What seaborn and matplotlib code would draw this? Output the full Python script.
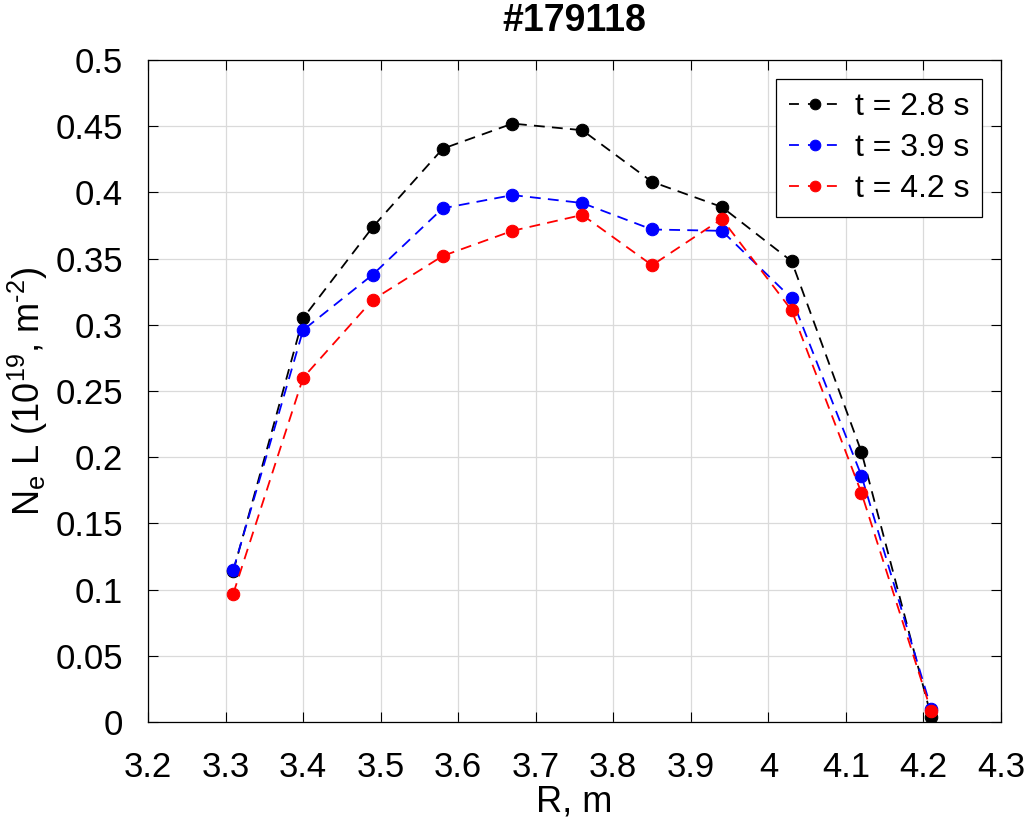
import numpy as np
import pandas as pd
import matplotlib
matplotlib.use("Agg")
import matplotlib.pyplot as plt
import seaborn as sns

# Radial positions of the chords (m)
R = [3.31, 3.40, 3.49, 3.58, 3.67, 3.76, 3.85, 3.94, 4.03, 4.12, 4.21]

# Line-integrated density, 1e19 m^-2
nel_t28 = [0.114, 0.305, 0.374, 0.433, 0.452, 0.447, 0.408, 0.389, 0.348, 0.204, 0.004]
nel_t39 = [0.115, 0.296, 0.338, 0.388, 0.398, 0.392, 0.372, 0.371, 0.320, 0.186, 0.010]
nel_t42 = [0.097, 0.260, 0.319, 0.352, 0.371, 0.383, 0.345, 0.380, 0.311, 0.173, 0.008]

labels = ["t = 2.8 s", "t = 3.9 s", "t = 4.2 s"]
colors = ["black", "blue", "red"]

x_ticks = [3.2, 3.3, 3.4, 3.5, 3.6, 3.7, 3.8, 3.9, 4.0, 4.1, 4.2, 4.3]
x_tick_labels = ["3.2", "3.3", "3.4", "3.5", "3.6", "3.7", "3.8", "3.9", "4", "4.1", "4.2", "4.3"]
y_ticks = [0, 0.05, 0.1, 0.15, 0.2, 0.25, 0.3, 0.35, 0.4, 0.45, 0.5]
y_tick_labels = ["0", "0.05", "0.1", "0.15", "0.2", "0.25", "0.3", "0.35", "0.4", "0.45", "0.5"]

sns.set_theme(style="ticks")
plt.rcParams["font.family"] = ["Liberation Sans", "DejaVu Sans"]
plt.rcParams["mathtext.default"] = "regular"
plt.rcParams["text.color"] = "black"
plt.rcParams["axes.labelcolor"] = "black"

fig = plt.figure(figsize=(10.25, 8.27), dpi=100)
ax = fig.add_axes([0.1444, 0.127, 0.8322, 0.8004])

for vals, lab, col in zip([nel_t28, nel_t39, nel_t42], labels, colors):
    df = pd.DataFrame({"R": R, "NeL": vals})
    sns.lineplot(data=df, x="R", y="NeL", ax=ax, color=col, label=lab,
                 linewidth=1.3, marker="o", markersize=9,
                 markeredgecolor=col, markerfacecolor=col)
# MATLAB style dashed lines
for line in ax.get_lines():
    line.set_linestyle((0, (6, 4)))

ax.set_xlim(3.2, 4.3)
ax.set_ylim(0, 0.5)
ax.set_xticks(x_ticks)
ax.set_xticklabels(x_tick_labels)
ax.set_yticks(y_ticks)
ax.set_yticklabels(y_tick_labels)
ax.tick_params(direction="in", length=7, width=0.8, labelsize=25,
               top=True, right=True, colors="black")
ax.tick_params(axis="x", pad=21)
ax.tick_params(axis="y", pad=18)
ax.grid(True, color="#dadada", linewidth=0.9)
for sp in ax.spines.values():
    sp.set_visible(True)
    sp.set_color("black")
    sp.set_linewidth(0.9)

ax.set_xlabel("R, m", fontsize=26, labelpad=0)
ax.set_ylabel("N$_e$ L (10$^{19}$, m$^{\u20102}$)", fontsize=26, labelpad=4)
ax.set_title("#179118", fontsize=27, fontweight="bold", pad=21)

leg = ax.legend(loc="upper right", fontsize=23, frameon=True, fancybox=False,
                edgecolor="black", framealpha=1, handlelength=1.6,
                borderaxespad=0.6, labelspacing=0.35, handletextpad=0.45,
                borderpad=0.4, markerscale=0.85)
leg.get_frame().set_linewidth(0.9)
for h in leg.get_lines():
    h.set_linestyle((0, (5.5, 5)))

fig.savefig("out.png", dpi=100)
